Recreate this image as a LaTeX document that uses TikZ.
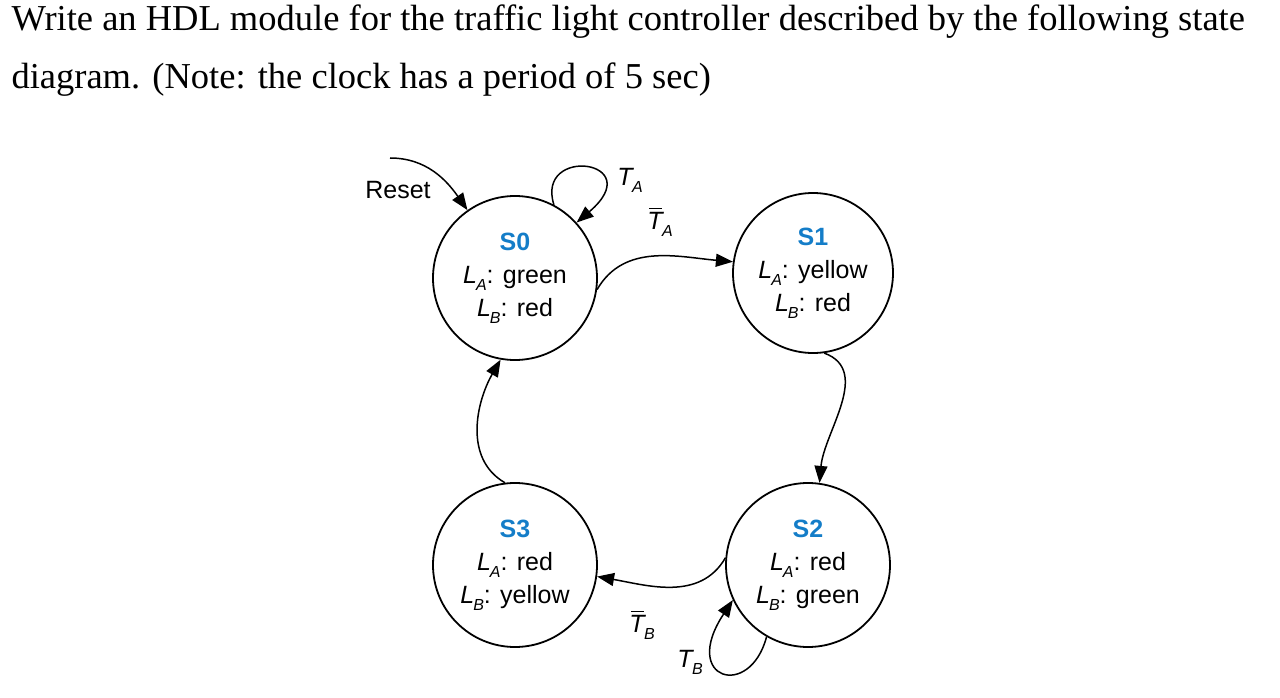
\documentclass[tikz,border=0pt]{standalone}
\usepackage{fontspec}
\setmainfont{Liberation Serif}
\newfontfamily\sans{Liberation Sans}
\usetikzlibrary{arrows.meta}
\definecolor{sblue}{RGB}{20,125,200}
\newcommand{\sub}[1]{\raisebox{-0.28em}{\fontsize{16}{16}\selectfont\textit{#1}}}
\newcommand{\LL}[1]{\textit{L}\kern-1pt\sub{#1}}
\newcommand{\TT}[1]{\textit{T}\kern-2pt\sub{#1}}
\newcommand{\TTb}[1]{\rlap{\kern2pt\raisebox{0.82em}{\rule{0.5em}{1.5pt}}}\textit{T}\kern-2pt\sub{#1}}
\begin{document}
\begin{tikzpicture}[x=1pt,y=-1pt,
  state/.style={draw,circle,line width=1.8pt,minimum size=164pt,inner sep=0pt,align=center,font=\sans\fontsize{25}{33}\selectfont},
  tr/.style={line width=1.5pt,-{Triangle[length=17pt,width=13pt]}},
  lbl/.style={font=\sans\fontsize{25}{30}\selectfont}]
\useasboundingbox (0,0) rectangle (1280,698);
\node[anchor=west,font=\fontsize{36.5}{38}\selectfont] (t1) at (8,22) {Write an HDL module for the traffic light controller described by the following state};
\node[anchor=west,font=\fontsize{36.5}{38}\selectfont] (t2) at (8,80) {diagram. (Note: the clock has a period of 5 sec)};
\node[state] (s0) at (515,278) {\textcolor{sblue}{\textbf{S0}}\\\LL{A}: green\\\LL{B}: red};
\node[state,minimum size=160pt] (s1) at (813,273) {\textcolor{sblue}{\textbf{S1}}\\\LL{A}: yellow\\\LL{B}: red};
\node[state] (s2) at (808,565) {\textcolor{sblue}{\textbf{S2}}\\\LL{A}: red\\\LL{B}: green};
\node[state] (s3) at (515,565) {\textcolor{sblue}{\textbf{S3}}\\\LL{A}: red\\\LL{B}: yellow};
\node[lbl] (reset) at (398,190) {Reset};
\coordinate (rs) at (390,158);
\draw[tr] (rs) to[out=0,in=125] (s0.125);
\draw[tr] (s0.62) .. controls (535,145) and (650,160) .. (s0.42);
\node[lbl] (ta) at (630,180) {\TT{A}};
\draw[tr] (s0.-8) to[out=60,in=175] (s1.172);
\node[lbl] (tab) at (660,222) {\TTb{A}};
\draw[tr] (s1.-82) to[out=-20,in=85] (s2.82);
\draw[tr] (s2.175) to[out=-120,in=-10] (s3.-8);
\node[lbl] (tbb) at (642,625) {\TTb{B}};
\draw[tr] (s2.240) .. controls (750,700) and (680,680) .. (s2.205);
\node[lbl] (tb) at (690,662) {\TT{B}};
\draw[tr] (s3.97) to[out=150,in=-120] (s0.-100);
\end{tikzpicture}
\end{document}
